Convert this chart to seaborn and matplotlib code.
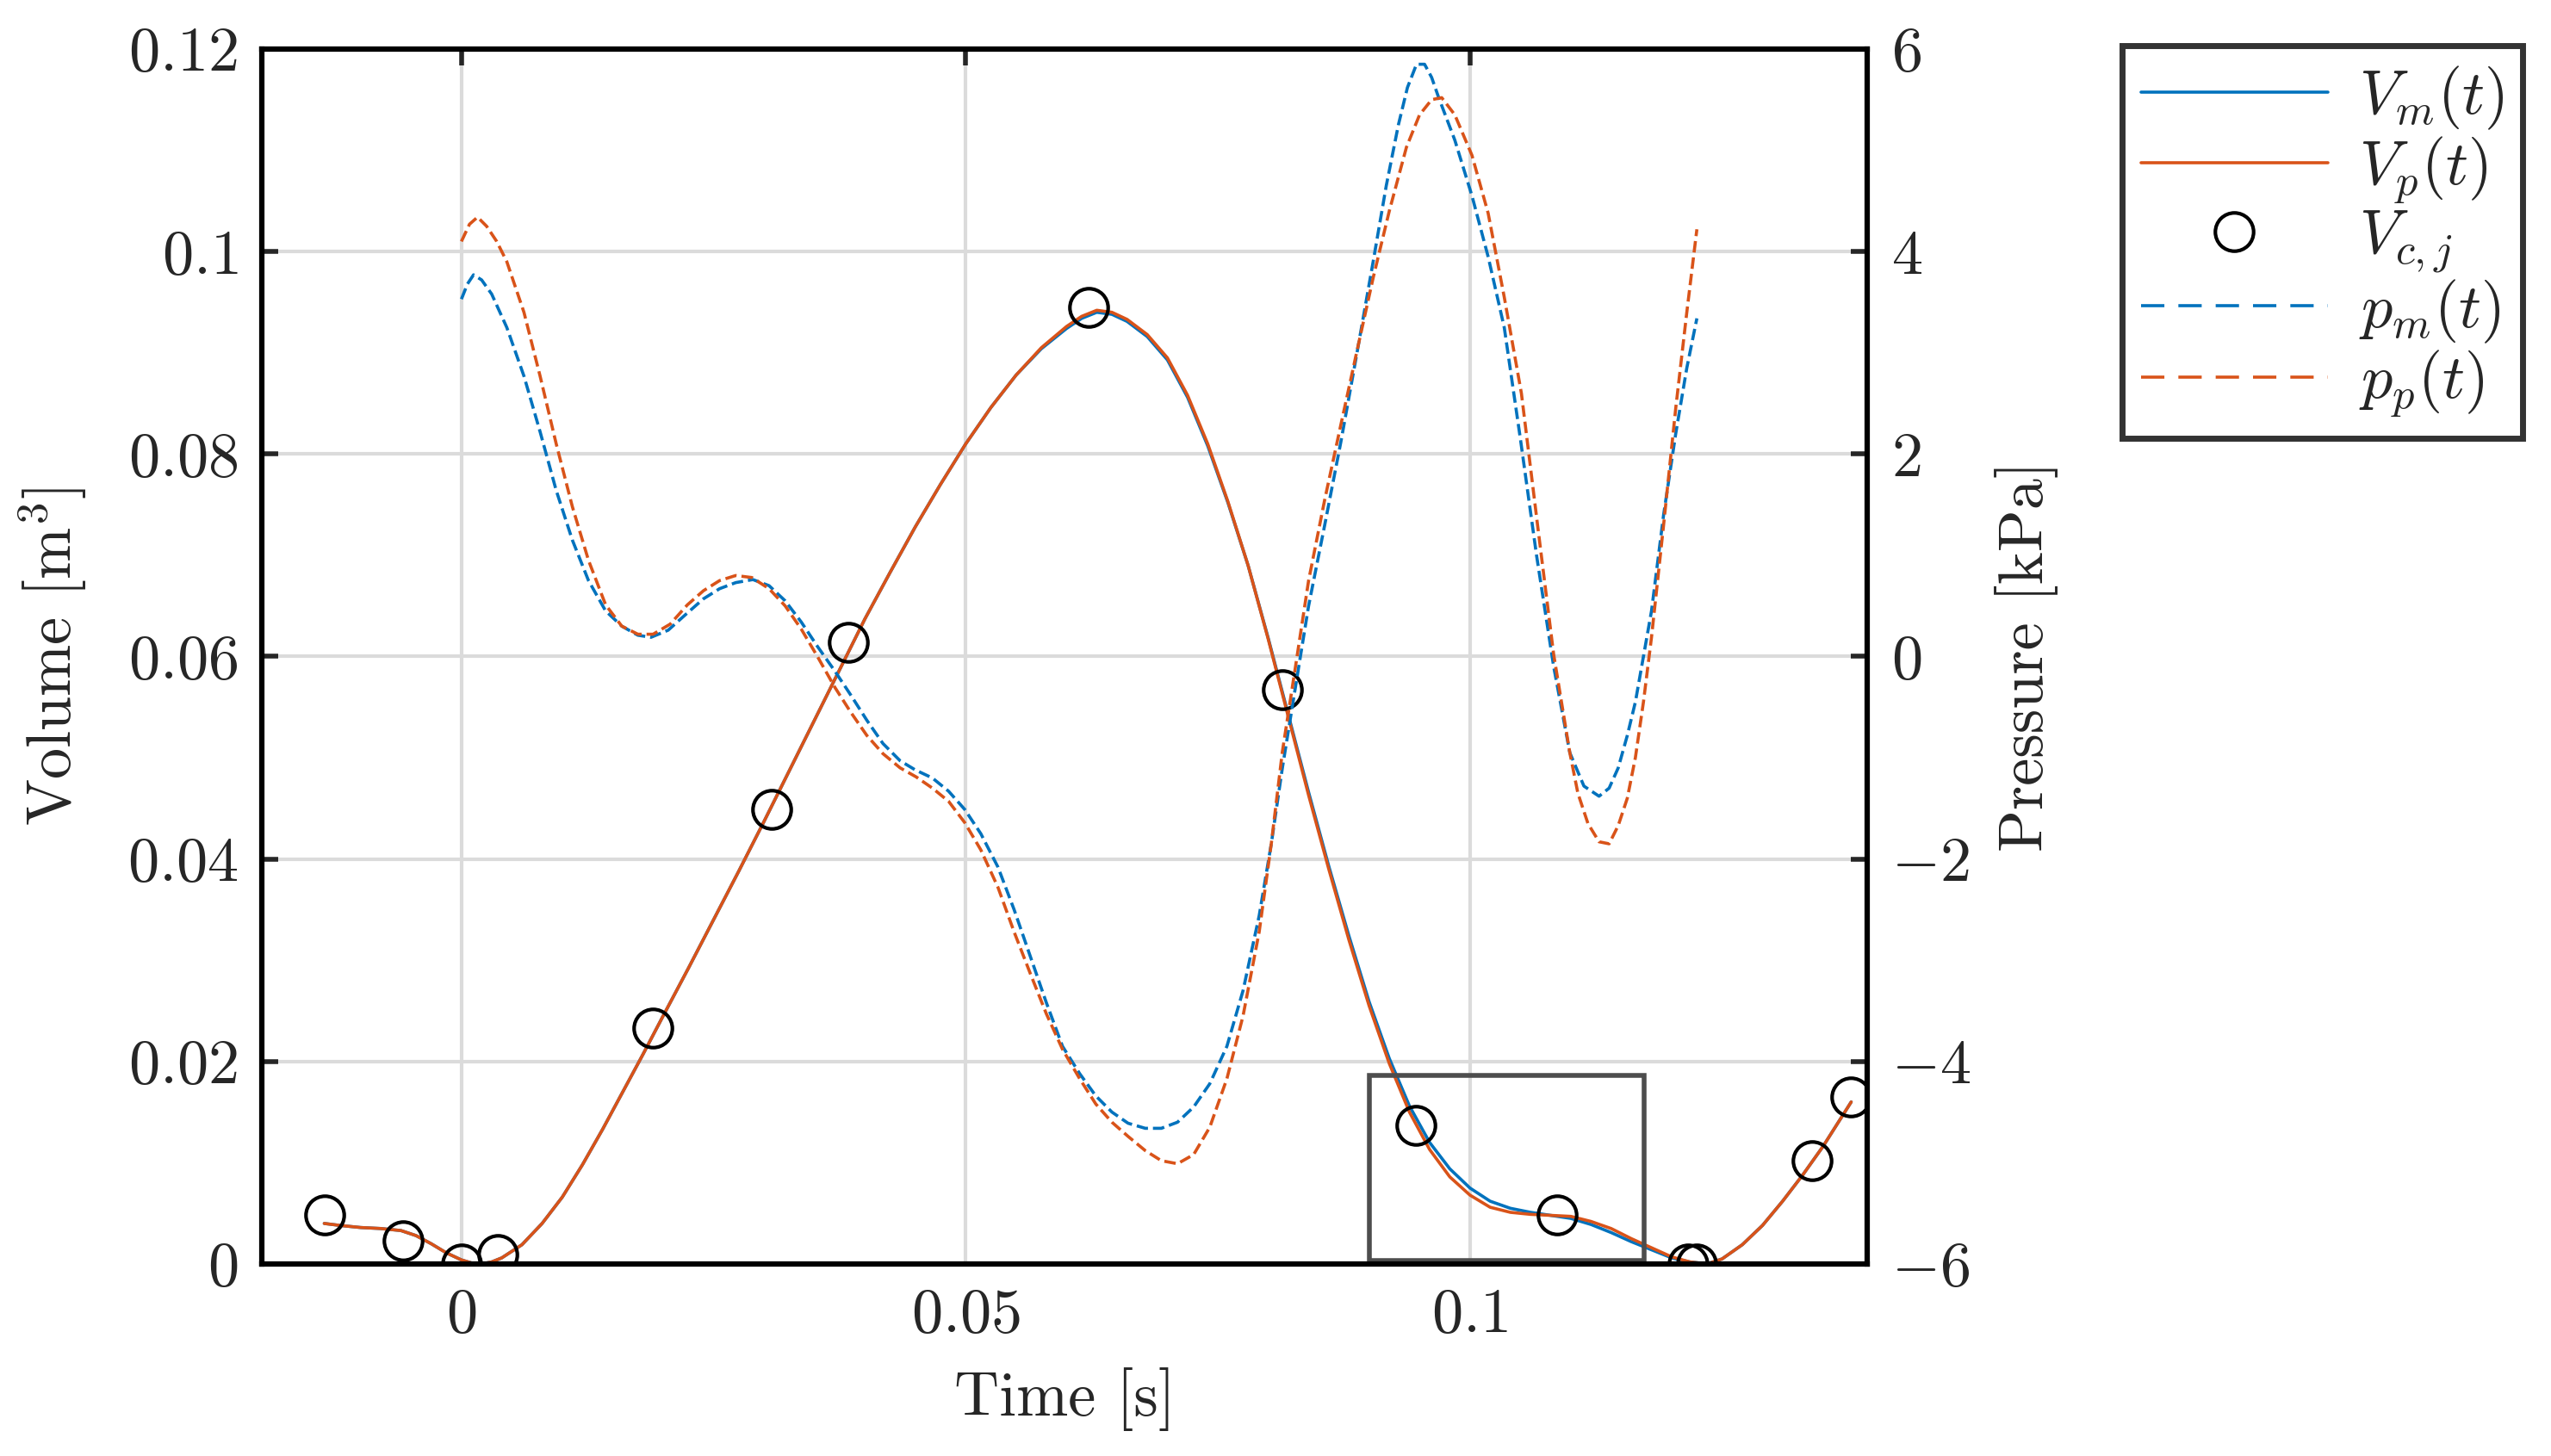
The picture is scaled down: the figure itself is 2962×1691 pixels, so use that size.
import matplotlib
matplotlib.use("Agg")
import matplotlib.pyplot as plt
import seaborn as sns
from matplotlib.lines import Line2D
from matplotlib.patches import Rectangle
from matplotlib.ticker import FuncFormatter

sns.set_style("white")
plt.rcParams['font.family'] = 'serif'
plt.rcParams['font.serif'] = ['cmr10', 'DejaVu Serif']
plt.rcParams['mathtext.fontset'] = 'cm'
plt.rcParams['axes.formatter.use_mathtext'] = True

# volume curves: time [s], volume [m^3]
t_v = [-0.0136, -0.012, -0.010, -0.008, -0.006, -0.0045, -0.003, -0.0015, 0.000, 0.001,
       0.002, 0.003, 0.004, 0.006, 0.008, 0.010, 0.012, 0.014, 0.016, 0.018,
       0.020, 0.0225, 0.025, 0.0275, 0.030, 0.0325, 0.035, 0.0375, 0.040, 0.0425,
       0.045, 0.0475, 0.050, 0.0525, 0.055, 0.0575, 0.060, 0.0615, 0.063, 0.0645,
       0.066, 0.068, 0.070, 0.072, 0.074, 0.076, 0.078, 0.080, 0.082, 0.084,
       0.086, 0.088, 0.090, 0.092, 0.094, 0.096, 0.098, 0.100, 0.102, 0.104,
       0.106, 0.108, 0.110, 0.112, 0.114, 0.116, 0.118, 0.120, 0.1218, 0.1235,
       0.125, 0.127, 0.129, 0.131, 0.133, 0.135, 0.1378]
v_p = [0.0040, 0.0038, 0.0036, 0.0035, 0.0033, 0.0028, 0.0020, 0.0011, 0.0004, 0.0001,
       0.0000, 0.0002, 0.0006, 0.0019, 0.0040, 0.0066, 0.0098, 0.0133, 0.0170, 0.0207,
       0.0245, 0.0292, 0.0340, 0.0388, 0.0437, 0.0487, 0.0537, 0.0587, 0.0637, 0.0683,
       0.0728, 0.0770, 0.0810, 0.0846, 0.0878, 0.0905, 0.0926, 0.0936, 0.0942, 0.0940,
       0.0933, 0.0918, 0.0895, 0.0858, 0.0810, 0.0753, 0.0690, 0.0617, 0.0540, 0.0463,
       0.0390, 0.0320, 0.0255, 0.0198, 0.0150, 0.0113, 0.0086, 0.0068, 0.0056, 0.0051,
       0.0049, 0.0048, 0.0047, 0.0042, 0.0035, 0.0025, 0.0016, 0.0007, 0.0002, 0.0000,
       0.0005, 0.0019, 0.0038, 0.0062, 0.0088, 0.0116, 0.0160]
v_m = [0.0040, 0.0038, 0.0036, 0.0035, 0.0033, 0.0028, 0.0020, 0.0011, 0.0004, 0.0001,
       0.0000, 0.0002, 0.0006, 0.0019, 0.0040, 0.0066, 0.0098, 0.0133, 0.0170, 0.0207,
       0.0245, 0.0292, 0.0340, 0.0388, 0.0437, 0.0487, 0.0537, 0.0587, 0.0637, 0.0683,
       0.0728, 0.0770, 0.0810, 0.0846, 0.0878, 0.0904, 0.0924, 0.0934, 0.0940, 0.0938,
       0.0931, 0.0916, 0.0893, 0.0856, 0.0808, 0.0752, 0.0690, 0.0618, 0.0542, 0.0466,
       0.0393, 0.0324, 0.0259, 0.0203, 0.0156, 0.0120, 0.0094, 0.0075, 0.0062, 0.0055,
       0.0051, 0.0048, 0.0045, 0.0039, 0.0031, 0.0022, 0.0014, 0.0006, 0.0002, 0.0000,
       0.0005, 0.0019, 0.0038, 0.0062, 0.0088, 0.0116, 0.0160]

# sample points V_c,j
t_c = [-0.0136, -0.0058, 0.0, 0.0036, 0.019, 0.0308, 0.0384, 0.0622, 0.0814,
       0.0946, 0.1086, 0.1216, 0.1225, 0.1339, 0.1378]
v_c = [0.00485, 0.00226, 0.0, 0.00097, 0.0233, 0.0449, 0.0614, 0.0945, 0.0567,
       0.0137, 0.00485, 0.0, 0.0, 0.0102, 0.0165]

# pressure curves: time [s], pressure [kPa]
t_pm = [0.0, 0.0006, 0.0012, 0.002, 0.003, 0.0045, 0.0062, 0.0078, 0.0094, 0.011,
        0.0126, 0.0143, 0.0159, 0.0175, 0.0188, 0.0205, 0.0224, 0.024, 0.0256, 0.0272,
        0.0289, 0.0305, 0.0321, 0.0337, 0.0353, 0.037, 0.0386, 0.0402, 0.0418, 0.0435,
        0.045, 0.0467, 0.0483, 0.0499, 0.0515, 0.0532, 0.0548, 0.0564, 0.058, 0.0596,
        0.0613, 0.0629, 0.0645, 0.0661, 0.0678, 0.0694, 0.071, 0.0726, 0.0742, 0.0759,
        0.0775, 0.0791, 0.0803, 0.0814, 0.0827, 0.084, 0.0856, 0.0872, 0.0888, 0.0904,
        0.0917, 0.0929, 0.0938, 0.0947, 0.0955, 0.0962, 0.0969, 0.0985, 0.1002, 0.1018,
        0.1034, 0.105, 0.1066, 0.1083, 0.1099, 0.1113, 0.1128, 0.1138, 0.1147, 0.1156,
        0.1164, 0.118, 0.1192, 0.1204, 0.1215, 0.1225]
p_m = [3.53, 3.68, 3.77, 3.72, 3.58, 3.25, 2.77, 2.22, 1.64, 1.15,
       0.75, 0.45, 0.30, 0.21, 0.19, 0.26, 0.43, 0.57, 0.67, 0.73,
       0.76, 0.70, 0.55, 0.34, 0.10, -0.14, -0.38, -0.63, -0.86, -1.03,
       -1.12, -1.20, -1.33, -1.51, -1.75, -2.08, -2.50, -2.96, -3.42, -3.85,
       -4.12, -4.34, -4.50, -4.61, -4.66, -4.66, -4.60, -4.45, -4.22, -3.85,
       -3.30, -2.56, -1.85, -1.10, -0.30, 0.50, 1.30, 2.12, 3.00, 3.90,
       4.65, 5.25, 5.62, 5.85, 5.85, 5.72, 5.52, 5.10, 4.55, 3.95,
       3.25, 2.15, 1.00, -0.10, -0.95, -1.28, -1.38, -1.30, -1.10, -0.78,
       -0.45, 0.45, 1.40, 2.20, 2.85, 3.34]

t_pp = [0.0, 0.0008, 0.0016, 0.0025, 0.0035, 0.0045, 0.0062, 0.0078, 0.0094, 0.011,
        0.0126, 0.0143, 0.0159, 0.0175, 0.019, 0.0207, 0.0224, 0.024, 0.0256, 0.0272,
        0.0288, 0.0305, 0.0321, 0.0337, 0.0353, 0.037, 0.0386, 0.0402, 0.0418, 0.0435,
        0.0451, 0.0467, 0.0483, 0.0499, 0.0515, 0.0532, 0.0548, 0.0564, 0.058, 0.0596,
        0.0613, 0.0629, 0.0645, 0.0661, 0.0678, 0.0694, 0.071, 0.0726, 0.0742, 0.0759,
        0.0775, 0.0791, 0.0803, 0.0814, 0.0827, 0.084, 0.0856, 0.0872, 0.0888, 0.0904,
        0.092, 0.0937, 0.095, 0.0962, 0.0972, 0.0985, 0.1002, 0.1018, 0.1034, 0.1051,
        0.1067, 0.1083, 0.1099, 0.1107, 0.1117, 0.1128, 0.1138, 0.1147, 0.1156, 0.1164,
        0.1172, 0.118, 0.1192, 0.1204, 0.1215, 0.1225]
p_p = [4.10, 4.27, 4.34, 4.25, 4.10, 3.90, 3.40, 2.77, 2.10, 1.48,
       0.95, 0.51, 0.30, 0.22, 0.22, 0.32, 0.51, 0.65, 0.75, 0.80,
       0.78, 0.67, 0.50, 0.27, 0.00, -0.30, -0.55, -0.78, -0.96, -1.10,
       -1.19, -1.30, -1.43, -1.64, -1.91, -2.28, -2.72, -3.13, -3.53, -3.88,
       -4.17, -4.42, -4.60, -4.74, -4.88, -4.98, -5.01, -4.92, -4.65, -4.17,
       -3.55, -2.72, -1.85, -0.94, -0.10, 0.75, 1.55, 2.29, 3.02, 3.74,
       4.40, 5.03, 5.35, 5.50, 5.52, 5.35, 4.95, 4.38, 3.55, 2.60,
       1.30, 0.02, -0.95, -1.35, -1.65, -1.83, -1.85, -1.67, -1.40, -1.00,
       -0.45, 0.19, 1.30, 2.45, 3.40, 4.22]

BLUE = '#0072BD'
ORANGE = '#D95319'
DASH = (7.5, 4.5)
ZOOM_BOX = (0.09, 0.0003, 0.1173, 0.0186)

fig = plt.figure(figsize=(14.81, 8.455), dpi=200)
ax = fig.add_axes([0.1026, 0.1319, 0.6294, 0.8344])
ax2 = ax.twinx()

sns.lineplot(x=t_v, y=v_m, ax=ax, color=BLUE, lw=1.3, sort=False, estimator=None)
sns.lineplot(x=t_v, y=v_p, ax=ax, color=ORANGE, lw=1.3, sort=False, estimator=None)
sns.lineplot(x=t_c, y=v_c, ax=ax, marker='o', ls='none', ms=16, mfc='none',
             mec='black', mew=1.5, color='black', sort=False, estimator=None)
sns.lineplot(x=t_pm, y=p_m, ax=ax2, color=BLUE, lw=1.3, ls='--', dashes=DASH,
             sort=False, estimator=None)
sns.lineplot(x=t_pp, y=p_p, ax=ax2, color=ORANGE, lw=1.3, ls='--', dashes=DASH,
             sort=False, estimator=None)

x0, y0, x1, y1 = ZOOM_BOX
ax.add_patch(Rectangle((x0, y0), x1 - x0, y1 - y0, fill=False,
                       edgecolor='0.3', lw=2.0, zorder=3))

ax.set_xlim(-0.0198, 0.1394)
ax.set_ylim(0, 0.12)
ax2.set_ylim(-6, 6)
ax.set_xticks([0, 0.05, 0.1])
ax.set_yticks([0, 0.02, 0.04, 0.06, 0.08, 0.1, 0.12])
ax2.set_yticks([-6, -4, -2, 0, 2, 4, 6])
fmt = FuncFormatter(lambda v, _: f'${v:g}$')
for a in (ax.xaxis, ax.yaxis, ax2.yaxis):
    a.set_major_formatter(fmt)

ax.grid(True, color='0.86', lw=1.5)
ax.set_axisbelow(True)
ax.tick_params(axis='both', direction='in', length=7, width=2, labelsize=26,
               top=True, right=False, pad=10)
ax2.tick_params(axis='y', direction='in', length=7, width=2, labelsize=26, pad=10)
for a in (ax, ax2):
    for s in a.spines.values():
        s.set_linewidth(2.2)
        s.set_color('black')

ax.set_xlabel('Time [s]', fontsize=26, labelpad=10)
ax.set_ylabel(r'Volume [m$^3$]', fontsize=26, labelpad=16)
ax2.set_ylabel('Pressure [kPa]', fontsize=26, labelpad=10)

handles = [
    Line2D([], [], color=BLUE, lw=1.3),
    Line2D([], [], color=ORANGE, lw=1.3),
    Line2D([], [], marker='o', ls='none', ms=16, mfc='none', mec='black', mew=1.5),
    Line2D([], [], color=BLUE, lw=1.3, ls='--', dashes=DASH),
    Line2D([], [], color=ORANGE, lw=1.3, ls='--', dashes=DASH),
]
labels = [r'$V_m(t)$', r'$V_p(t)$', r'$V_{c,j}$', r'$p_m(t)$', r'$p_p(t)$']
leg = fig.legend(handles, labels, loc='upper left', bbox_to_anchor=(0.832, 0.9687),
                 fontsize=26, frameon=True, fancybox=False, edgecolor='black',
                 handlelength=3.0, handletextpad=0.5, labelspacing=0.05,
                 borderpad=0.3, borderaxespad=0)
leg.get_frame().set_linewidth(2.5)

fig.savefig('out.png', dpi=200)
